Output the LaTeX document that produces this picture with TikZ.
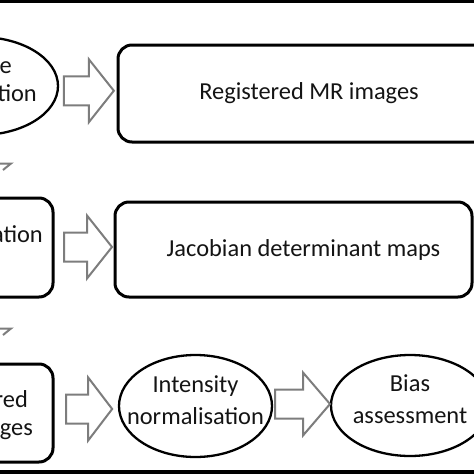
\documentclass[tikz,border=0pt]{standalone}
\usepackage{fontspec}
\setmainfont{Carlito}
\usetikzlibrary{shapes.geometric,calc}
\definecolor{arrowgray}{RGB}{125,125,125}
\definecolor{inkblack}{RGB}{20,20,20}
\newcommand{\blockarr}[3]{%
  \draw[barrow] (#1) ++({-#2/2},-14.5) -- ++({#2-#3},0) -- ++(0,-17) -- ++(#3,31.5)
    -- ++({-#3},31.5) -- ++(0,-17) -- ++({-(#2-#3)},0) -- cycle;}
\newcommand{\lowerpad}{\rule[-12pt]{0pt}{12pt}}
\begin{document}
\begin{tikzpicture}[x=1pt,y=-1pt,
  every node/.append style={font=\fontsize{24.4}{32}\selectfont, text=inkblack},
  box/.style={draw=black, line width=3pt, rounded corners=14pt, inner sep=0pt},
  oval/.style={draw=black, line width=2.3pt, ellipse, inner xsep=-45pt, inner ysep=-35pt, align=center},
  lbl/.style={inner sep=0pt},
  barrow/.style={draw=arrowgray, line width=2pt, fill=white, line join=miter},
  frameline/.style={black}]
\useasboundingbox (0,0) rectangle (474,474);
\clip (0,0) rectangle (474,474);
\fill[white] (0,0) rectangle (474,474);
% row 1
\node[oval, minimum width=156pt, minimum height=98pt] (e1) at (-20,86) {};
\node[lbl, anchor=base east] (e1a) at (12,73) {e};
\node[lbl, anchor=base east] (e1b) at (37,101) {tion};
\node[box, minimum width=382pt, minimum height=97pt] (r1) at (309,93.5) {Registered MR images};
% row 2
\node[box, minimum width=153pt, minimum height=99pt] (m2) at (-23.5,247.5) {};
\node[lbl, anchor=base east] (m2a) at (43,242) {ation};
\node[box, minimum width=357pt, minimum height=95pt] (r2) at (293.5,249.5) {\hspace*{20pt}Jacobian determinant maps};
% row 3
\node[box, minimum width=153pt, minimum height=98pt] (b3) at (-23.5,413) {};
\node[lbl, anchor=base east] (b3a) at (28,407) {red};
\node[lbl, anchor=base east] (b3b) at (33,435) {ges};
\node[oval, minimum width=153pt, minimum height=102pt] (i3) at (195.5,406) {Intensity\\normalisation\lowerpad};
\node[oval, minimum width=158pt, minimum height=101pt] (a3) at (410,405.5) {Bias\\assessment\lowerpad};
% block arrows
\blockarr{$(e1.east)!0.5!(r1.west)+(1,1)$}{50}{25}
\blockarr{$(m2.east)!0.5!(r2.west)+(4,-1.5)$}{48}{25}
\blockarr{$(b3.east)!0.5!(i3.west)+(3,-0.5)$}{46}{24}
\blockarr{$(i3.east)!0.5!(a3.west)+(1,-1.75)$}{55}{27}
% fragments of cut-off arrows at the left edge
\draw[arrowgray, line width=2pt] (0,163.5) -- (11,163.5) -- (3,170);
\draw[arrowgray, line width=2pt] (0,328.5) -- (11,328.5) -- (3,335);
% frame lines
\draw[frameline, line width=3pt] (0,1.5) -- (474,1.5);
\draw[frameline, line width=4pt] (0,472) -- (474,472);
\end{tikzpicture}
\end{document}
